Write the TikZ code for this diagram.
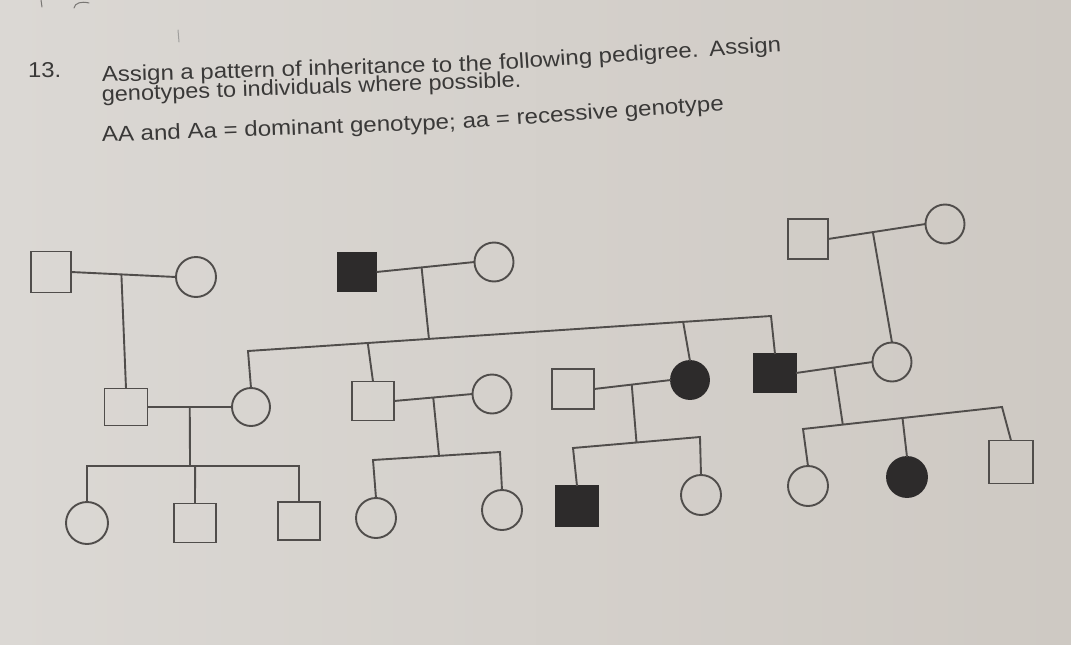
\documentclass[tikz,border=0pt]{standalone}
\usepackage{graphicx}
\usepackage{fontspec}
\setmainfont{Liberation Sans}
\usetikzlibrary{calc}
\definecolor{paperA}{RGB}{219,216,212}
\definecolor{paperB}{RGB}{206,201,195}
\definecolor{ink}{RGB}{80,77,75}
\definecolor{inkfill}{RGB}{45,43,43}
\definecolor{txt}{RGB}{58,57,56}
\definecolor{pencil}{RGB}{120,118,115}
\newcommand{\widetext}[2]{\scalebox{#1}[1]{#2}}
\begin{document}
\begin{tikzpicture}[x=1pt,y=-1pt,
  person/.style={draw=ink,line width=1.9pt,inner sep=0pt,outer sep=0pt},
  sq/.style={person,rectangle,minimum width=40pt,minimum height=40pt},
  ci/.style={person,circle,minimum size=39pt},
  aff/.style={fill=inkfill,draw=inkfill},
  link/.style={draw=ink,line width=1.9pt},
  hdr/.style={text=txt,inner sep=0pt,anchor=base west,font=\fontsize{21.5}{22}\selectfont}
]
\shade[left color=paperA,right color=paperB] (0,0) rectangle (1071,645);
\useasboundingbox (0,0) rectangle (1071,645);

% stray pencil marks
\draw[pencil,line width=1pt,line cap=round] (41,0) -- (42,7);
\draw[pencil,line width=1pt,line cap=round] (74,8) .. controls (75,3) and (81,1) .. (89,3);
\draw[pencil!70,line width=1pt,line cap=round] (178,30) -- (179,42);

% header text (the printed lines curve slightly upward to the right)
\node[hdr] (num) at (28,77) {\widetext{1.11}{13.}};
\node[hdr,rotate=1.7] (l1a) at (102,82) {\widetext{1.115}{Assign a pattern of inheritance to the}};
\node[hdr,rotate=3.8] (l1b) at (l1a.base east) {\widetext{1.115}{\hspace{0.278em}following pedigree.\hspace{0.45em}Assign}};
\node[hdr,rotate=2.0] (l2) at (102,101.5) {\widetext{1.09}{genotypes to individuals where possible.}};
\node[hdr,rotate=2.1] (l3a) at (102,142) {\widetext{1.12}{AA and Aa = dominant genotype;}};
\node[hdr,rotate=4.0] (l3b) at (l3a.base east) {\widetext{1.12}{\hspace{0.278em}aa = recessive genotype}};

% generation I
\node[sq,minimum height=41pt] (A) at (51,272) {};
\node[ci,minimum size=40pt] (B) at (196,277) {};
\node[sq,aff,minimum size=39pt] (E) at (357,272) {};
\node[ci] (F) at (494,262) {};
\node[sq] (K) at (808,239) {};
\node[ci] (L) at (945,224) {};

% generation II
\node[sq,minimum width=43pt,minimum height=37pt] (C) at (126,407) {};
\node[ci,minimum size=38pt] (D) at (251,407) {};
\node[sq,minimum width=42pt,minimum height=39pt] (G) at (373,401) {};
\node[ci] (J) at (492,394) {};
\node[sq,minimum width=42pt] (N) at (573,389) {};
\node[ci,aff,minimum size=38pt] (H) at (690,380) {};
\node[sq,aff,minimum width=42pt,minimum height=38pt] (I) at (775,373) {};
\node[ci] (M) at (892,362) {};

% generation III
\node[ci,minimum size=42pt] (c1) at (87,523) {};
\node[sq,minimum width=42pt,minimum height=39pt] (c2) at (195,523) {};
\node[sq,minimum width=42pt,minimum height=38pt] (c3) at (299,521) {};
\node[ci,minimum size=40pt] (c4) at (376,518) {};
\node[ci,minimum size=40pt] (c5) at (502,510) {};
\node[sq,aff,minimum width=43pt] (c6) at (577,506) {};
\node[ci,minimum size=40pt] (c7) at (701,495) {};
\node[ci,minimum size=40pt] (c8) at (808,486) {};
\node[ci,aff,minimum size=40pt] (c9) at (907,477) {};
\node[sq,minimum width=44pt,minimum height=43pt] (c10) at (1011,462) {};

% sibship line end points
\coordinate (s1) at (248,351);
\coordinate (s2) at (771,316);
\coordinate (g1) at (87,466);
\coordinate (g3) at (299,466);
\coordinate (h1) at (373,460);
\coordinate (h2) at (500,452);
\coordinate (n1) at (573,448);
\coordinate (n2) at (700,437);
\coordinate (m1) at (803,429);
\coordinate (m3) at (1002,407);

% junctions on mating lines
\coordinate (ab) at ($(A.east)!0.48!(B.west)$);
\coordinate (ef) at ($(E.east)!0.46!(F.west)$);
\coordinate (kl) at ($(K.east)!0.46!(L.west)$);
\coordinate (cd) at ($(C.east)!0.5!(D.west)$);
\coordinate (gj) at ($(G.east)!0.5!(J.west)$);
\coordinate (nh) at ($(N.east)!0.49!(H.west)$);
\coordinate (im) at ($(I.east)!0.5!(M.west)$);

% junctions on sibship lines
\coordinate (sEF) at ($(s1)!0.346!(s2)$);
\coordinate (sG) at ($(s1)!0.229!(s2)$);
\coordinate (sH) at ($(s1)!0.832!(s2)$);
\coordinate (gCD) at ($(g1)!0.486!(g3)$);
\coordinate (g2) at ($(g1)!0.51!(g3)$);
\coordinate (hGJ) at ($(h1)!0.52!(h2)$);
\coordinate (nNH) at ($(n1)!0.5!(n2)$);
\coordinate (mIM) at ($(m1)!0.2!(m3)$);
\coordinate (m2) at ($(m1)!0.5!(m3)$);

% mating lines
\draw[link] (A.east) -- (B.west);
\draw[link] (E.east) -- (F.west);
\draw[link] (K.east) -- (L.west);
\draw[link] (C.east) -- (D.west);
\draw[link] (G.east) -- (J.west);
\draw[link] (N.east) -- (H.west);
\draw[link] (I.east) -- (M.west);

% descent lines
\draw[link] (ab) -- (C.north);
\draw[link] (ef) -- (sEF);
\draw[link] (kl) -- (M.north);
\draw[link] (cd) -- (gCD);
\draw[link] (gj) -- (hGJ);
\draw[link] (nh) -- (nNH);
\draw[link] (im) -- (mIM);

% sibship lines and drops
\draw[link] (D.north) -- (s1) -- (s2) -- (I.north);
\draw[link] (sG) -- (G.north);
\draw[link] (sH) -- (H.north);
\draw[link] (c1.north) -- (g1) -- (g3) -- (c3.north);
\draw[link] (g2) -- (c2.north);
\draw[link] (c4.north) -- (h1) -- (h2) -- (c5.north);
\draw[link] (c6.north) -- (n1) -- (n2) -- (c7.north);
\draw[link] (c8.north) -- (m1) -- (m3) -- (c10.north);
\draw[link] (m2) -- (c9.north);
\end{tikzpicture}
\end{document}
